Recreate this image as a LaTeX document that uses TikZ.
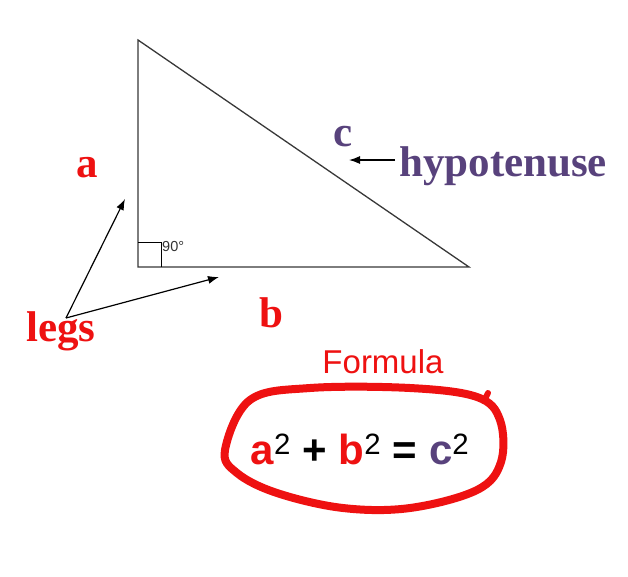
\documentclass[tikz,border=0pt]{standalone}
\usepackage{fontspec}
\setmainfont{Liberation Serif}
\setsansfont{Liberation Sans}
\usepackage{tikz}
\usetikzlibrary{arrows.meta}
\definecolor{legred}{RGB}{238,17,17}
\definecolor{hypviolet}{RGB}{88,66,124}
\definecolor{edgegray}{RGB}{56,56,56}
\newcommand{\bigserif}{\fontsize{43}{48}\selectfont\bfseries}

\begin{document}
\begin{tikzpicture}[x=1pt,y=-1pt,
    sidelabel/.style={font=\bigserif,inner sep=0pt,anchor=base},
    pointer/.style={-{Latex[length=11pt,width=8pt]},line width=1.2pt}]
      \useasboundingbox (0,0) rectangle (628,576);
      % triangle
      \coordinate (top) at (138,40);
      \coordinate (rt) at (138,267);
      \coordinate (far) at (469,267);
      \draw[edgegray,line width=1.3pt] (top) -- (rt) -- (far) -- cycle;
      \draw[line width=1pt] (138,242) -| (161,267);
      \node[font=\sffamily\fontsize{14.5}{16}\selectfont,text=black!80,inner sep=0pt,anchor=base west] (deg) at (162,251){90\textdegree};
      % side labels
      \node[sidelabel,text=legred] (a) at (87,177){a};
      \node[sidelabel,text=legred] (b) at (271,327){b};
      \node[sidelabel,text=hypviolet] (c) at (343,146){c};
      \node[sidelabel,text=hypviolet,anchor=base west] (hyp) at (399,176){hypotenuse};
      \node[sidelabel,text=legred] (legs) at (61,341){legs};
      % pointers
      \coordinate (legfoot) at (66,318);
      \coordinate (ahead) at (125,199);
      \coordinate (bhead) at (219,277);
      \coordinate (chead) at (349,160);
      \draw[pointer] (legfoot) -- (ahead);
      \draw[pointer] (legfoot) -- (bhead);
      \draw[pointer] (hyp.west |- chead) ++(-4,0) -- (chead);
      % formula
      \node[font=\sffamily\fontsize{33}{36}\selectfont,text=legred,inner sep=0pt,anchor=base] (title) at (383,373){Formula};
      \node[font=\sffamily\fontsize{42}{48}\selectfont,inner sep=0pt,anchor=base] (formula) at (360,464)
        {\textbf{\color{legred}a}\textsuperscript{2} \textbf{+} \textbf{\color{legred}b}\textsuperscript{2} \textbf{=} \textbf{\color{hypviolet}c}\textsuperscript{2}};
      \draw[legred,line width=8pt,line cap=round,line join=round] plot[smooth cycle,tension=0.6] coordinates
        {(225,450) (250,400) (310,388) (410,388) (477,397) (500,420) (501,462) (477,490) (410,508) (343,508) (277,493) (237,473)};
      \draw[legred,line width=6pt,line cap=round] (484,401) -- (488,393);
    \end{tikzpicture}
\end{document}
